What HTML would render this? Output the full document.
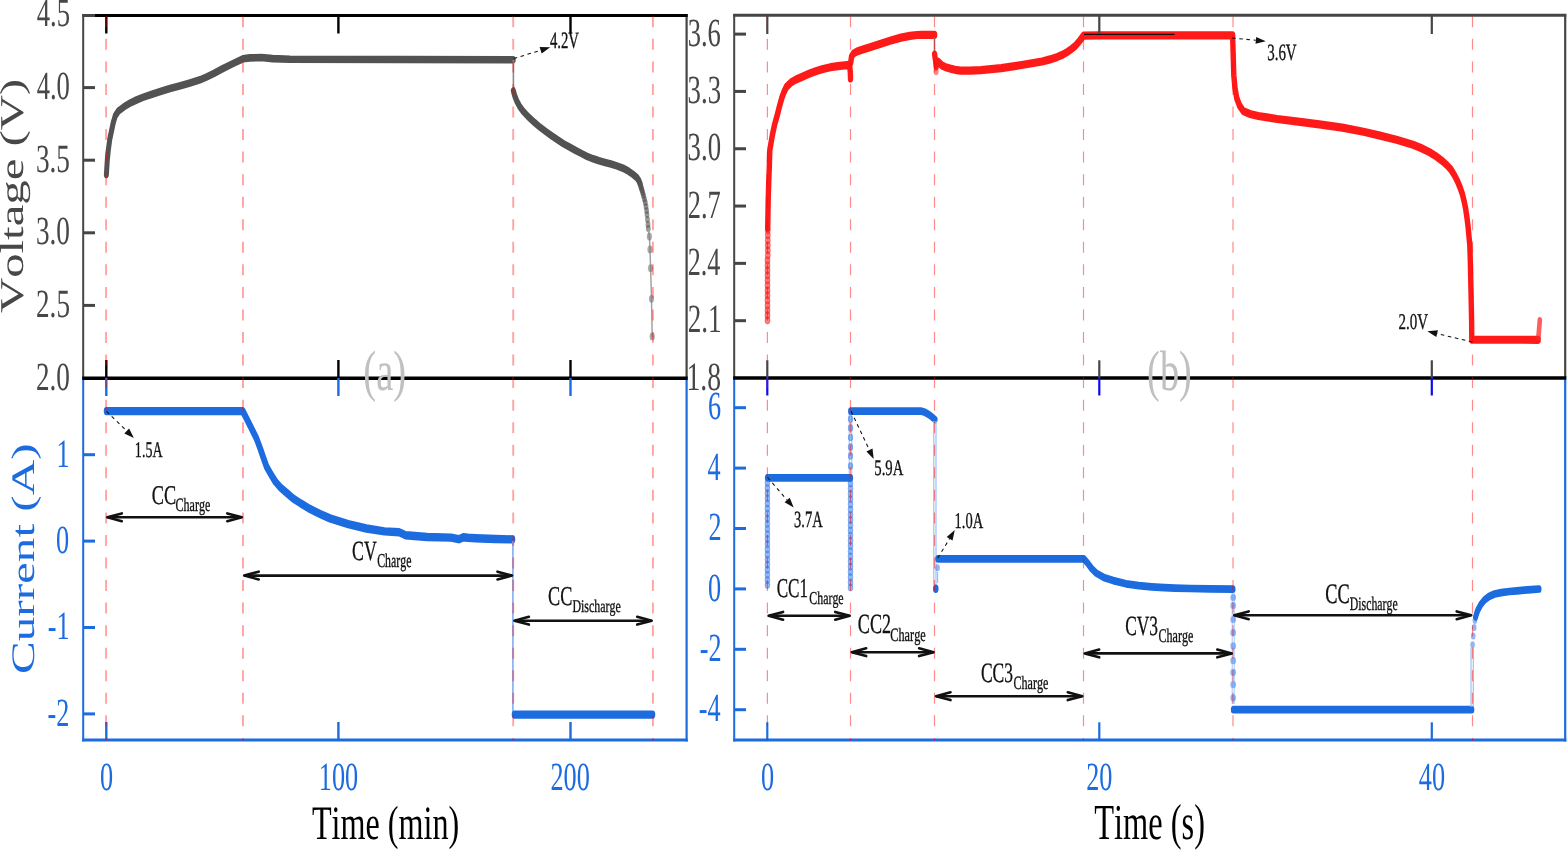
<!DOCTYPE html>
<html><head><meta charset="utf-8"><title>Charge/discharge profiles</title>
<style>
html,body{margin:0;padding:0;background:#fff;}
body{width:1567px;height:850px;overflow:hidden;}
svg{display:block;}
svg text{font-family:'Liberation Serif', 'Times New Roman', serif;font-kerning:none;text-rendering:geometricPrecision;}
</style></head><body>
<svg width="1567" height="850" viewBox="0 0 1567 850">
<rect width="1567" height="850" fill="#fff"/>
<polyline transform="scale(0.66,1)" points="161.21,174.4 162.58,160.0 164.24,149.4 166.36,139.0 168.94,131.0 171.67,122.5 174.70,115.7 179.24,111.2 187.88,106.8 197.88,102.8 206.82,100.0 216.36,97.4 230.30,94.2 244.24,91.3 257.58,88.5 271.97,85.9 287.88,82.9 303.03,79.8 313.33,76.9 324.24,73.4 336.06,69.2 353.18,63.5 368.03,58.8 378.79,57.9 396.06,57.5 413.18,58.6 439.39,59.3 606.06,59.5 777.58,59.7" fill="none" stroke="#525252" stroke-width="7.6" stroke-linejoin="round" stroke-linecap="round" />
<line x1="513.4" y1="60" x2="513.4" y2="90" stroke="#8a8a8a" stroke-width="1.6" />
<polyline transform="scale(0.66,1)" points="777.88,91.0 780.00,96.0 783.03,101.2 787.12,106.2 791.82,110.6 800.00,116.5 809.70,122.4 818.18,127.2 827.58,131.8 836.36,136.0 845.30,140.0 853.79,143.7 863.18,147.1 871.97,150.4 881.06,153.5 889.39,156.3 898.79,158.8 907.58,160.8 916.67,162.4 925.76,164.0 934.55,165.9 943.94,168.2 952.27,171.2 959.09,174.4 964.85,177.6 967.88,180.5 970.00,184.0" fill="none" stroke="#525252" stroke-width="7.6" stroke-linejoin="round" stroke-linecap="round" />
<ellipse cx="641.0" cy="187.0" rx="2.38" ry="3.6" fill="rgba(85,85,85,0.9)" />
<ellipse cx="641.8" cy="189.6" rx="2.38" ry="3.6" fill="rgba(85,85,85,0.85)" />
<ellipse cx="642.7" cy="192.5" rx="2.38" ry="3.6" fill="rgba(85,85,85,0.8)" />
<ellipse cx="643.5" cy="195.5" rx="2.38" ry="3.6" fill="rgba(85,85,85,0.75)" />
<ellipse cx="644.4" cy="199.0" rx="2.38" ry="3.6" fill="rgba(85,85,85,0.7)" />
<ellipse cx="645.3" cy="202.6" rx="2.38" ry="3.6" fill="rgba(85,85,85,0.66)" />
<ellipse cx="646.0" cy="206.5" rx="2.38" ry="3.6" fill="rgba(85,85,85,0.62)" />
<ellipse cx="646.6" cy="210.5" rx="2.38" ry="3.6" fill="rgba(85,85,85,0.6)" />
<ellipse cx="647.0" cy="214.5" rx="2.38" ry="3.6" fill="rgba(85,85,85,0.6)" />
<ellipse cx="647.5" cy="219.5" rx="2.38" ry="3.6" fill="rgba(85,85,85,0.6)" />
<ellipse cx="648.0" cy="224.5" rx="2.38" ry="3.6" fill="rgba(85,85,85,0.6)" />
<ellipse cx="648.3" cy="228.5" rx="2.38" ry="3.6" fill="rgba(85,85,85,0.6)" />
<polyline transform="scale(0.66,1)" points="982.27,228.5 983.94,236.5 984.85,249.4 985.76,268.2 987.12,298.8 988.18,336.5" fill="none" stroke="#a0a0a0" stroke-width="2.2" stroke-linejoin="round" stroke-linecap="round" />
<ellipse cx="649.4" cy="236.5" rx="2.57" ry="3.9" fill="rgba(125,125,125,0.65)" />
<ellipse cx="650.0" cy="249.4" rx="2.57" ry="3.9" fill="rgba(125,125,125,0.65)" />
<ellipse cx="650.6" cy="268.2" rx="2.57" ry="3.9" fill="rgba(125,125,125,0.65)" />
<ellipse cx="651.5" cy="298.8" rx="2.57" ry="3.9" fill="rgba(125,125,125,0.65)" />
<ellipse cx="652.2" cy="336.5" rx="2.57" ry="3.9" fill="rgba(125,125,125,0.65)" />
<polyline transform="scale(0.66,1)" points="161.36,411.1 367.88,411.1 373.18,418.0 379.24,426.0 388.48,438.2 394.39,448.8 399.09,457.7 403.79,466.5 410.45,474.4 417.12,481.5 425.15,487.7 434.55,493.0 443.94,498.3 455.91,503.5 469.24,508.8 477.27,511.5 485.76,514.2 500.00,518.4 527.58,524.2 555.15,528.5 582.58,531.4 604.70,532.3 609.85,533.8 614.39,535.2 646.97,537.0 683.64,537.6 690.91,538.6 695.45,539.2 701.97,537.2 709.09,537.8 720.45,538.3 750.00,539.0 776.52,539.4" fill="none" stroke="#1c6ce0" stroke-width="8.4" stroke-linejoin="round" stroke-linecap="round" />
<line x1="512.9" y1="541" x2="512.9" y2="712" stroke="#8fb6f2" stroke-width="1.8" />
<polyline transform="scale(0.66,1)" points="779.55,714.6 988.64,714.6" fill="none" stroke="#1c6ce0" stroke-width="8.4" stroke-linejoin="round" stroke-linecap="round" />
<ellipse cx="767.5" cy="320.3" rx="2.51" ry="3.8" fill="rgba(255,40,40,0.6)" stroke="rgba(255,0,0,0.45)" stroke-width="0.8"/>
<ellipse cx="767.5" cy="315.3" rx="2.51" ry="3.8" fill="rgba(255,40,40,0.6)" stroke="rgba(255,0,0,0.45)" stroke-width="0.8"/>
<ellipse cx="767.5" cy="310.3" rx="2.51" ry="3.8" fill="rgba(255,40,40,0.6)" stroke="rgba(255,0,0,0.45)" stroke-width="0.8"/>
<ellipse cx="767.5" cy="305.3" rx="2.51" ry="3.8" fill="rgba(255,40,40,0.6)" stroke="rgba(255,0,0,0.45)" stroke-width="0.8"/>
<ellipse cx="767.5" cy="300.3" rx="2.51" ry="3.8" fill="rgba(255,40,40,0.6)" stroke="rgba(255,0,0,0.45)" stroke-width="0.8"/>
<ellipse cx="767.5" cy="295.3" rx="2.51" ry="3.8" fill="rgba(255,40,40,0.6)" stroke="rgba(255,0,0,0.45)" stroke-width="0.8"/>
<ellipse cx="767.5" cy="290.3" rx="2.51" ry="3.8" fill="rgba(255,40,40,0.6)" stroke="rgba(255,0,0,0.45)" stroke-width="0.8"/>
<ellipse cx="767.5" cy="285.3" rx="2.51" ry="3.8" fill="rgba(255,40,40,0.6)" stroke="rgba(255,0,0,0.45)" stroke-width="0.8"/>
<ellipse cx="767.5" cy="280.3" rx="2.51" ry="3.8" fill="rgba(255,40,40,0.6)" stroke="rgba(255,0,0,0.45)" stroke-width="0.8"/>
<ellipse cx="767.5" cy="275.3" rx="2.51" ry="3.8" fill="rgba(255,40,40,0.6)" stroke="rgba(255,0,0,0.45)" stroke-width="0.8"/>
<ellipse cx="767.5" cy="270.3" rx="2.51" ry="3.8" fill="rgba(255,40,40,0.6)" stroke="rgba(255,0,0,0.45)" stroke-width="0.8"/>
<ellipse cx="767.5" cy="265.3" rx="2.51" ry="3.8" fill="rgba(255,40,40,0.6)" stroke="rgba(255,0,0,0.45)" stroke-width="0.8"/>
<ellipse cx="767.5" cy="260.3" rx="2.51" ry="3.8" fill="rgba(255,40,40,0.6)" stroke="rgba(255,0,0,0.45)" stroke-width="0.8"/>
<ellipse cx="767.8" cy="255.3" rx="2.51" ry="3.8" fill="rgba(255,40,40,0.6)" stroke="rgba(255,0,0,0.45)" stroke-width="0.8"/>
<ellipse cx="767.8" cy="250.3" rx="2.51" ry="3.8" fill="rgba(255,40,40,0.6)" stroke="rgba(255,0,0,0.45)" stroke-width="0.8"/>
<ellipse cx="767.8" cy="245.3" rx="2.51" ry="3.8" fill="rgba(255,40,40,0.6)" stroke="rgba(255,0,0,0.45)" stroke-width="0.8"/>
<ellipse cx="767.8" cy="240.3" rx="2.51" ry="3.8" fill="rgba(255,40,40,0.6)" stroke="rgba(255,0,0,0.45)" stroke-width="0.8"/>
<ellipse cx="767.8" cy="235.3" rx="2.51" ry="3.8" fill="rgba(255,40,40,0.6)" stroke="rgba(255,0,0,0.45)" stroke-width="0.8"/>
<ellipse cx="767.8" cy="230.3" rx="2.51" ry="3.8" fill="rgba(255,40,40,0.6)" stroke="rgba(255,0,0,0.45)" stroke-width="0.8"/>
<polyline transform="scale(0.66,1)" points="1163.18,228.0 1163.94,200.0 1164.85,180.0 1165.76,164.7 1166.36,150.0 1170.30,135.0 1173.48,125.0 1177.27,116.2 1180.76,107.0 1184.39,98.3 1187.88,92.0 1191.52,87.0 1198.64,82.3 1206.06,79.5 1215.76,76.7 1225.76,73.8 1237.12,71.0 1246.97,69.0 1258.48,67.2 1269.70,66.1 1279.85,65.4 1287.12,64.9 1288.33,72.0 1288.64,78.5" fill="none" stroke="#ff1a1a" stroke-width="8.2" stroke-linejoin="round" stroke-linecap="round" />
<polyline transform="scale(0.66,1)" points="1289.09,62.0 1290.30,56.5 1293.18,53.5 1298.48,51.5 1306.06,49.8 1318.18,47.3 1333.33,44.0 1348.48,40.8 1365.15,37.6 1378.79,35.9 1389.39,35.0 1396.97,34.9 1416.06,34.9" fill="none" stroke="#ff1a1a" stroke-width="8.2" stroke-linejoin="round" stroke-linecap="round" />
<line x1="934.5" y1="38" x2="934.5" y2="51.5" stroke="#8a8a8a" stroke-width="1.5" />
<polyline transform="scale(0.66,1)" points="1416.06,54.5 1417.58,61.0 1418.48,66.5" fill="none" stroke="#ff1a1a" stroke-width="8.0" stroke-linejoin="round" stroke-linecap="round" />
<ellipse cx="936.1" cy="71.5" rx="2.51" ry="3.8" fill="rgba(255,40,40,0.55)" />
<polyline transform="scale(0.66,1)" points="1421.52,61.7 1427.27,65.5 1432.73,67.2 1439.70,68.6 1446.97,69.8 1455.15,70.6 1469.70,70.6 1486.21,70.1 1517.12,68.1 1548.03,65.0 1578.94,61.5 1590.91,59.4 1602.27,56.9 1610.61,54.5 1617.73,51.7 1624.24,48.6 1630.15,45.3 1636.06,40.6 1641.67,35.6 1666.67,35.3 1867.58,35.3 1868.48,55.0 1869.39,75.3 1871.21,88.0 1873.79,97.9 1878.03,105.5 1883.79,111.1 1893.94,114.0 1906.52,116.0 1935.15,119.0 1969.70,121.8 2001.82,124.6 2033.79,127.6 2065.91,131.8 2090.91,135.6 2115.91,139.8 2140.91,144.7 2153.03,148.0 2165.76,152.1 2175.76,156.3 2185.76,161.2 2192.42,165.2 2198.18,169.4 2203.48,175.0 2208.18,181.0 2212.27,187.5 2215.76,194.1 2218.48,201.5 2220.76,209.0 2222.73,218.0 2224.39,227.1 2226.97,245.2 2227.73,260.0 2228.79,291.2 2229.70,320.0 2230.00,339.6 2330.61,339.8" fill="none" stroke="#ff1a1a" stroke-width="8.2" stroke-linejoin="round" stroke-linecap="round" />
<polyline transform="scale(0.66,1)" points="2330.91,337.0 2332.12,328.0 2333.03,320.5" fill="none" stroke="rgba(255,40,40,0.75)" stroke-width="7.0" stroke-linejoin="round" stroke-linecap="round" />
<line x1="1084" y1="34.3" x2="1174.5" y2="34.3" stroke="#111" stroke-width="1.3" />
<ellipse cx="767.4" cy="585.0" rx="2.38" ry="3.6" fill="rgba(60,125,235,0.55)" stroke="rgba(30,100,225,0.45)" stroke-width="0.8"/>
<ellipse cx="767.4" cy="579.9" rx="2.38" ry="3.6" fill="rgba(60,125,235,0.55)" stroke="rgba(30,100,225,0.45)" stroke-width="0.8"/>
<ellipse cx="767.4" cy="574.8" rx="2.38" ry="3.6" fill="rgba(60,125,235,0.55)" stroke="rgba(30,100,225,0.45)" stroke-width="0.8"/>
<ellipse cx="767.4" cy="569.7" rx="2.38" ry="3.6" fill="rgba(60,125,235,0.55)" stroke="rgba(30,100,225,0.45)" stroke-width="0.8"/>
<ellipse cx="767.4" cy="564.6" rx="2.38" ry="3.6" fill="rgba(60,125,235,0.55)" stroke="rgba(30,100,225,0.45)" stroke-width="0.8"/>
<ellipse cx="767.4" cy="559.5" rx="2.38" ry="3.6" fill="rgba(60,125,235,0.55)" stroke="rgba(30,100,225,0.45)" stroke-width="0.8"/>
<ellipse cx="767.4" cy="554.4" rx="2.38" ry="3.6" fill="rgba(60,125,235,0.55)" stroke="rgba(30,100,225,0.45)" stroke-width="0.8"/>
<ellipse cx="767.4" cy="549.3" rx="2.38" ry="3.6" fill="rgba(60,125,235,0.55)" stroke="rgba(30,100,225,0.45)" stroke-width="0.8"/>
<ellipse cx="767.4" cy="544.2" rx="2.38" ry="3.6" fill="rgba(60,125,235,0.55)" stroke="rgba(30,100,225,0.45)" stroke-width="0.8"/>
<ellipse cx="767.4" cy="539.1" rx="2.38" ry="3.6" fill="rgba(60,125,235,0.55)" stroke="rgba(30,100,225,0.45)" stroke-width="0.8"/>
<ellipse cx="767.4" cy="534.0" rx="2.38" ry="3.6" fill="rgba(60,125,235,0.55)" stroke="rgba(30,100,225,0.45)" stroke-width="0.8"/>
<ellipse cx="767.4" cy="528.9" rx="2.38" ry="3.6" fill="rgba(60,125,235,0.55)" stroke="rgba(30,100,225,0.45)" stroke-width="0.8"/>
<ellipse cx="767.4" cy="523.8" rx="2.38" ry="3.6" fill="rgba(60,125,235,0.55)" stroke="rgba(30,100,225,0.45)" stroke-width="0.8"/>
<ellipse cx="767.4" cy="518.7" rx="2.38" ry="3.6" fill="rgba(60,125,235,0.55)" stroke="rgba(30,100,225,0.45)" stroke-width="0.8"/>
<ellipse cx="767.4" cy="513.6" rx="2.38" ry="3.6" fill="rgba(60,125,235,0.55)" stroke="rgba(30,100,225,0.45)" stroke-width="0.8"/>
<ellipse cx="767.4" cy="508.5" rx="2.38" ry="3.6" fill="rgba(60,125,235,0.55)" stroke="rgba(30,100,225,0.45)" stroke-width="0.8"/>
<ellipse cx="767.4" cy="503.4" rx="2.38" ry="3.6" fill="rgba(60,125,235,0.55)" stroke="rgba(30,100,225,0.45)" stroke-width="0.8"/>
<ellipse cx="767.4" cy="498.3" rx="2.38" ry="3.6" fill="rgba(60,125,235,0.55)" stroke="rgba(30,100,225,0.45)" stroke-width="0.8"/>
<ellipse cx="767.4" cy="493.2" rx="2.38" ry="3.6" fill="rgba(60,125,235,0.55)" stroke="rgba(30,100,225,0.45)" stroke-width="0.8"/>
<ellipse cx="767.4" cy="488.1" rx="2.38" ry="3.6" fill="rgba(60,125,235,0.55)" stroke="rgba(30,100,225,0.45)" stroke-width="0.8"/>
<ellipse cx="767.4" cy="483.0" rx="2.38" ry="3.6" fill="rgba(60,125,235,0.55)" stroke="rgba(30,100,225,0.45)" stroke-width="0.8"/>
<line x1="849.2" y1="414" x2="849.2" y2="476" stroke="#9cc0f5" stroke-width="1.0" />
<line x1="851.8" y1="414" x2="851.8" y2="476" stroke="#9cc0f5" stroke-width="1.0" />
<ellipse cx="850.5" cy="587.5" rx="2.38" ry="3.6" fill="rgba(60,125,235,0.55)" stroke="rgba(30,100,225,0.45)" stroke-width="0.8"/>
<ellipse cx="850.5" cy="582.3" rx="2.38" ry="3.6" fill="rgba(60,125,235,0.55)" stroke="rgba(30,100,225,0.45)" stroke-width="0.8"/>
<ellipse cx="850.5" cy="577.1" rx="2.38" ry="3.6" fill="rgba(60,125,235,0.55)" stroke="rgba(30,100,225,0.45)" stroke-width="0.8"/>
<ellipse cx="850.5" cy="571.9" rx="2.38" ry="3.6" fill="rgba(60,125,235,0.55)" stroke="rgba(30,100,225,0.45)" stroke-width="0.8"/>
<ellipse cx="850.5" cy="566.7" rx="2.38" ry="3.6" fill="rgba(60,125,235,0.55)" stroke="rgba(30,100,225,0.45)" stroke-width="0.8"/>
<ellipse cx="850.5" cy="561.5" rx="2.38" ry="3.6" fill="rgba(60,125,235,0.55)" stroke="rgba(30,100,225,0.45)" stroke-width="0.8"/>
<ellipse cx="850.5" cy="556.3" rx="2.38" ry="3.6" fill="rgba(60,125,235,0.55)" stroke="rgba(30,100,225,0.45)" stroke-width="0.8"/>
<ellipse cx="850.5" cy="551.1" rx="2.38" ry="3.6" fill="rgba(60,125,235,0.55)" stroke="rgba(30,100,225,0.45)" stroke-width="0.8"/>
<ellipse cx="850.5" cy="545.9" rx="2.38" ry="3.6" fill="rgba(60,125,235,0.55)" stroke="rgba(30,100,225,0.45)" stroke-width="0.8"/>
<ellipse cx="850.5" cy="540.7" rx="2.38" ry="3.6" fill="rgba(60,125,235,0.55)" stroke="rgba(30,100,225,0.45)" stroke-width="0.8"/>
<ellipse cx="850.5" cy="535.5" rx="2.38" ry="3.6" fill="rgba(60,125,235,0.55)" stroke="rgba(30,100,225,0.45)" stroke-width="0.8"/>
<ellipse cx="850.5" cy="530.3" rx="2.38" ry="3.6" fill="rgba(60,125,235,0.55)" stroke="rgba(30,100,225,0.45)" stroke-width="0.8"/>
<ellipse cx="850.5" cy="525.1" rx="2.38" ry="3.6" fill="rgba(60,125,235,0.55)" stroke="rgba(30,100,225,0.45)" stroke-width="0.8"/>
<ellipse cx="850.5" cy="519.9" rx="2.38" ry="3.6" fill="rgba(60,125,235,0.55)" stroke="rgba(30,100,225,0.45)" stroke-width="0.8"/>
<ellipse cx="850.5" cy="514.7" rx="2.38" ry="3.6" fill="rgba(60,125,235,0.55)" stroke="rgba(30,100,225,0.45)" stroke-width="0.8"/>
<ellipse cx="850.5" cy="509.5" rx="2.38" ry="3.6" fill="rgba(60,125,235,0.55)" stroke="rgba(30,100,225,0.45)" stroke-width="0.8"/>
<ellipse cx="850.5" cy="504.3" rx="2.38" ry="3.6" fill="rgba(60,125,235,0.55)" stroke="rgba(30,100,225,0.45)" stroke-width="0.8"/>
<ellipse cx="850.5" cy="499.1" rx="2.38" ry="3.6" fill="rgba(60,125,235,0.55)" stroke="rgba(30,100,225,0.45)" stroke-width="0.8"/>
<ellipse cx="850.5" cy="493.9" rx="2.38" ry="3.6" fill="rgba(60,125,235,0.55)" stroke="rgba(30,100,225,0.45)" stroke-width="0.8"/>
<ellipse cx="850.5" cy="488.7" rx="2.38" ry="3.6" fill="rgba(60,125,235,0.55)" stroke="rgba(30,100,225,0.45)" stroke-width="0.8"/>
<ellipse cx="850.5" cy="483.5" rx="2.38" ry="3.6" fill="rgba(60,125,235,0.55)" stroke="rgba(30,100,225,0.45)" stroke-width="0.8"/>
<ellipse cx="850.5" cy="478.3" rx="2.38" ry="3.6" fill="rgba(60,125,235,0.55)" stroke="rgba(30,100,225,0.45)" stroke-width="0.8"/>
<ellipse cx="850.5" cy="419.0" rx="2.24" ry="3.4" fill="rgba(60,125,235,0.55)" stroke="rgba(30,100,225,0.45)" stroke-width="0.8"/>
<ellipse cx="850.5" cy="428.0" rx="2.24" ry="3.4" fill="rgba(60,125,235,0.55)" stroke="rgba(30,100,225,0.45)" stroke-width="0.8"/>
<ellipse cx="850.5" cy="437.5" rx="2.24" ry="3.4" fill="rgba(60,125,235,0.55)" stroke="rgba(30,100,225,0.45)" stroke-width="0.8"/>
<ellipse cx="850.5" cy="447.0" rx="2.24" ry="3.4" fill="rgba(60,125,235,0.55)" stroke="rgba(30,100,225,0.45)" stroke-width="0.8"/>
<ellipse cx="850.5" cy="456.0" rx="2.24" ry="3.4" fill="rgba(60,125,235,0.55)" stroke="rgba(30,100,225,0.45)" stroke-width="0.8"/>
<ellipse cx="850.5" cy="466.0" rx="2.24" ry="3.4" fill="rgba(60,125,235,0.55)" stroke="rgba(30,100,225,0.45)" stroke-width="0.8"/>
<polyline transform="scale(0.66,1)" points="1162.73,477.8 1288.64,477.8" fill="none" stroke="#1c6ce0" stroke-width="7.7" stroke-linejoin="round" stroke-linecap="round" />
<polyline transform="scale(0.66,1)" points="1288.79,411.2 1396.21,411.2 1401.52,412.3 1407.58,414.6 1412.88,417.4 1416.67,419.5" fill="none" stroke="#1c6ce0" stroke-width="7.7" stroke-linejoin="round" stroke-linecap="round" />
<line x1="933.8" y1="421" x2="933.8" y2="585" stroke="#9cc0f5" stroke-width="1.2" />
<line x1="936.0" y1="421" x2="936.0" y2="585" stroke="#9cc0f5" stroke-width="1.2" />
<ellipse cx="935.8" cy="588.8" rx="2.77" ry="4.2" fill="#1c6ce0" />
<ellipse cx="937.6" cy="567.8" rx="2.31" ry="3.5" fill="rgba(60,120,230,0.55)" />
<line x1="937.6" y1="572" x2="937.6" y2="583" stroke="#9cc0f5" stroke-width="1.2" />
<polyline transform="scale(0.66,1)" points="1420.91,558.8 1642.27,558.8 1648.18,563.4 1653.94,568.5 1660.76,573.0 1672.27,577.4 1686.82,580.6 1706.21,583.8 1725.45,585.7 1744.85,586.8 1764.09,587.7 1780.30,588.1 1803.03,588.5 1833.33,588.8 1868.18,589.1" fill="none" stroke="#1c6ce0" stroke-width="7.7" stroke-linejoin="round" stroke-linecap="round" />
<line x1="1232.2" y1="593" x2="1232.2" y2="704" stroke="#a9c7f6" stroke-width="1.0" />
<line x1="1234.2" y1="593" x2="1234.2" y2="704" stroke="#a9c7f6" stroke-width="1.0" />
<ellipse cx="1233.2" cy="597.5" rx="2.9" ry="3.6" fill="rgba(70,130,235,0.55)"/>
<ellipse cx="1233.2" cy="605.5" rx="2.9" ry="3.6" fill="rgba(70,130,235,0.55)"/>
<ellipse cx="1233.2" cy="619.5" rx="2.9" ry="3.6" fill="rgba(70,130,235,0.55)"/>
<ellipse cx="1233.2" cy="632.7" rx="2.9" ry="3.6" fill="rgba(70,130,235,0.55)"/>
<ellipse cx="1233.2" cy="645.9" rx="2.9" ry="3.6" fill="rgba(70,130,235,0.55)"/>
<ellipse cx="1233.2" cy="660.7" rx="2.9" ry="3.6" fill="rgba(70,130,235,0.55)"/>
<ellipse cx="1233.2" cy="672.3" rx="2.9" ry="3.6" fill="rgba(70,130,235,0.55)"/>
<ellipse cx="1233.2" cy="684.6" rx="2.9" ry="3.6" fill="rgba(70,130,235,0.55)"/>
<ellipse cx="1233.2" cy="697.8" rx="2.9" ry="3.6" fill="rgba(70,130,235,0.55)"/>
<polyline transform="scale(0.66,1)" points="1868.79,709.7 2230.00,709.7" fill="none" stroke="#1c6ce0" stroke-width="7.7" stroke-linejoin="round" stroke-linecap="round" />
<line x1="1471.0" y1="707" x2="1471.0" y2="648" stroke="#9cc0f5" stroke-width="1.2" />
<line x1="1473.3" y1="707" x2="1473.3" y2="648" stroke="#9cc0f5" stroke-width="1.2" />
<ellipse cx="1472.6" cy="644.8" rx="2.31" ry="3.5" fill="rgba(60,120,230,0.55)" />
<ellipse cx="1473.2" cy="636.0" rx="2.31" ry="3.5" fill="rgba(60,120,230,0.55)" />
<ellipse cx="1474.2" cy="627.5" rx="2.31" ry="3.5" fill="rgba(60,120,230,0.55)" />
<ellipse cx="1474.9" cy="620.5" rx="2.31" ry="3.5" fill="rgba(60,120,230,0.55)" />
<polyline transform="scale(0.66,1)" points="2235.76,617.0 2237.27,613.5 2239.39,609.7 2243.94,604.2 2249.55,599.8 2256.06,596.5 2264.39,594.0 2274.24,592.6 2286.97,591.5 2298.48,590.8 2309.39,590.2 2319.70,589.6 2331.82,589.0" fill="none" stroke="#1c6ce0" stroke-width="7.7" stroke-linejoin="round" stroke-linecap="round" />
<line x1="83.2" y1="14" x2="83.2" y2="378" stroke="#454545" stroke-width="2" />
<line x1="83.2" y1="378" x2="83.2" y2="741.5" stroke="#1c6ce0" stroke-width="2" />
<line x1="686.6" y1="14" x2="686.6" y2="378" stroke="#454545" stroke-width="2.2" />
<line x1="686.6" y1="378" x2="686.6" y2="741.5" stroke="#1c6ce0" stroke-width="2.2" />
<line x1="82.2" y1="15.5" x2="95" y2="15.5" stroke="#454545" stroke-width="3" />
<line x1="95" y1="15.5" x2="687.7" y2="15.5" stroke="#000" stroke-width="3" />
<line x1="82.2" y1="378.2" x2="687.7" y2="378.2" stroke="#000" stroke-width="3.5" />
<line x1="82.2" y1="740" x2="687.7" y2="740" stroke="#1c6ce0" stroke-width="3" />
<line x1="106.3" y1="15" x2="106.3" y2="33.5" stroke="#000" stroke-width="2.4" />
<line x1="106.3" y1="360" x2="106.3" y2="378" stroke="#000" stroke-width="2.4" />
<line x1="106.3" y1="378" x2="106.3" y2="396" stroke="#1c6ce0" stroke-width="2.4" />
<line x1="106.3" y1="722" x2="106.3" y2="740" stroke="#1c6ce0" stroke-width="2.4" />
<line x1="338.4" y1="15" x2="338.4" y2="33.5" stroke="#000" stroke-width="2.4" />
<line x1="338.4" y1="360" x2="338.4" y2="378" stroke="#000" stroke-width="2.4" />
<line x1="338.4" y1="378" x2="338.4" y2="396" stroke="#1c6ce0" stroke-width="2.4" />
<line x1="338.4" y1="722" x2="338.4" y2="740" stroke="#1c6ce0" stroke-width="2.4" />
<line x1="570.5" y1="15" x2="570.5" y2="33.5" stroke="#000" stroke-width="2.4" />
<line x1="570.5" y1="360" x2="570.5" y2="378" stroke="#000" stroke-width="2.4" />
<line x1="570.5" y1="378" x2="570.5" y2="396" stroke="#1c6ce0" stroke-width="2.4" />
<line x1="570.5" y1="722" x2="570.5" y2="740" stroke="#1c6ce0" stroke-width="2.4" />
<line x1="83" y1="305.4" x2="95" y2="305.4" stroke="#454545" stroke-width="3" />
<line x1="83" y1="232.8" x2="95" y2="232.8" stroke="#454545" stroke-width="3" />
<line x1="83" y1="160.20000000000002" x2="95" y2="160.20000000000002" stroke="#454545" stroke-width="3" />
<line x1="83" y1="87.60000000000002" x2="95" y2="87.60000000000002" stroke="#454545" stroke-width="3" />
<line x1="83" y1="454.70000000000005" x2="95" y2="454.70000000000005" stroke="#1c6ce0" stroke-width="3" />
<line x1="83" y1="541.1" x2="95" y2="541.1" stroke="#1c6ce0" stroke-width="3" />
<line x1="83" y1="627.5" x2="95" y2="627.5" stroke="#1c6ce0" stroke-width="3" />
<line x1="83" y1="713.9000000000001" x2="95" y2="713.9000000000001" stroke="#1c6ce0" stroke-width="3" />
<line x1="734.2" y1="14" x2="734.2" y2="378" stroke="#454545" stroke-width="2" />
<line x1="734.2" y1="378" x2="734.2" y2="741.5" stroke="#1c6ce0" stroke-width="2" />
<line x1="1565.2" y1="14" x2="1565.2" y2="378" stroke="#454545" stroke-width="2.2" />
<line x1="1565.2" y1="378" x2="1565.2" y2="741.5" stroke="#1c6ce0" stroke-width="2.2" />
<line x1="733.2" y1="15.3" x2="1566.3" y2="15.3" stroke="#454545" stroke-width="3" />
<line x1="733.2" y1="377.9" x2="1566.3" y2="377.9" stroke="#000" stroke-width="3.5" />
<line x1="733.2" y1="740" x2="1566.3" y2="740" stroke="#1c6ce0" stroke-width="3" />
<line x1="767.3" y1="15" x2="767.3" y2="34" stroke="#454545" stroke-width="2.2" />
<line x1="767.3" y1="360.3" x2="767.3" y2="378" stroke="#454545" stroke-width="2.2" />
<line x1="767.3" y1="378" x2="767.3" y2="395.5" stroke="#0a0af0" stroke-width="2.2" />
<line x1="767.3" y1="722.3" x2="767.3" y2="740" stroke="#1c6ce0" stroke-width="2.2" />
<line x1="1099.3" y1="15" x2="1099.3" y2="34" stroke="#454545" stroke-width="2.2" />
<line x1="1099.3" y1="360.3" x2="1099.3" y2="378" stroke="#454545" stroke-width="2.2" />
<line x1="1099.3" y1="378" x2="1099.3" y2="395.5" stroke="#0a0af0" stroke-width="2.2" />
<line x1="1099.3" y1="722.3" x2="1099.3" y2="740" stroke="#1c6ce0" stroke-width="2.2" />
<line x1="1431.8" y1="15" x2="1431.8" y2="34" stroke="#454545" stroke-width="2.2" />
<line x1="1431.8" y1="360.3" x2="1431.8" y2="378" stroke="#454545" stroke-width="2.2" />
<line x1="1431.8" y1="378" x2="1431.8" y2="395.5" stroke="#0a0af0" stroke-width="2.2" />
<line x1="1431.8" y1="722.3" x2="1431.8" y2="740" stroke="#1c6ce0" stroke-width="2.2" />
<line x1="734" y1="320.685" x2="746" y2="320.685" stroke="#454545" stroke-width="3" />
<line x1="734" y1="263.37" x2="746" y2="263.37" stroke="#454545" stroke-width="3" />
<line x1="734" y1="206.05499999999998" x2="746" y2="206.05499999999998" stroke="#454545" stroke-width="3" />
<line x1="734" y1="148.73999999999998" x2="746" y2="148.73999999999998" stroke="#454545" stroke-width="3" />
<line x1="734" y1="91.42500000000001" x2="746" y2="91.42500000000001" stroke="#454545" stroke-width="3" />
<line x1="734" y1="34.11000000000007" x2="746" y2="34.11000000000007" stroke="#454545" stroke-width="3" />
<line x1="734" y1="407.7" x2="746" y2="407.7" stroke="#1c6ce0" stroke-width="3" />
<line x1="734" y1="468.09999999999997" x2="746" y2="468.09999999999997" stroke="#1c6ce0" stroke-width="3" />
<line x1="734" y1="528.5" x2="746" y2="528.5" stroke="#1c6ce0" stroke-width="3" />
<line x1="734" y1="588.9" x2="746" y2="588.9" stroke="#1c6ce0" stroke-width="3" />
<line x1="734" y1="649.3" x2="746" y2="649.3" stroke="#1c6ce0" stroke-width="3" />
<line x1="734" y1="709.6999999999999" x2="746" y2="709.6999999999999" stroke="#1c6ce0" stroke-width="3" />
<line x1="106.1" y1="16.3" x2="106.1" y2="741" stroke="rgba(255,0,0,0.36)" stroke-width="1.9" stroke-dasharray="11 11.55"/>
<line x1="243.0" y1="16.3" x2="243.0" y2="741" stroke="rgba(255,0,0,0.36)" stroke-width="1.9" stroke-dasharray="11 11.55"/>
<line x1="513.2" y1="16.3" x2="513.2" y2="741" stroke="rgba(255,0,0,0.36)" stroke-width="1.9" stroke-dasharray="11 11.55"/>
<line x1="652.9" y1="16.3" x2="652.9" y2="741" stroke="rgba(255,0,0,0.36)" stroke-width="1.9" stroke-dasharray="11 11.55"/>
<line x1="767.4" y1="16.3" x2="767.4" y2="741" stroke="rgba(255,0,0,0.46)" stroke-width="1.2" stroke-dasharray="11 11.55"/>
<line x1="850.5" y1="16.3" x2="850.5" y2="741" stroke="rgba(255,0,0,0.46)" stroke-width="1.2" stroke-dasharray="11 11.55"/>
<line x1="934.5" y1="16.3" x2="934.5" y2="741" stroke="rgba(255,0,0,0.46)" stroke-width="1.2" stroke-dasharray="11 11.55"/>
<line x1="1083.5" y1="16.3" x2="1083.5" y2="741" stroke="rgba(255,0,0,0.46)" stroke-width="1.2" stroke-dasharray="11 11.55"/>
<line x1="1233.0" y1="16.3" x2="1233.0" y2="741" stroke="rgba(255,0,0,0.46)" stroke-width="1.2" stroke-dasharray="11 11.55"/>
<line x1="1472.5" y1="16.3" x2="1472.5" y2="741" stroke="rgba(255,0,0,0.46)" stroke-width="1.2" stroke-dasharray="11 11.55"/>
<text transform="translate(36.68,26.48) scale(0.6652,1)" font-size="40.00" fill="#474747" >4.5</text>
<text transform="translate(36.68,99.22) scale(0.6646,1)" font-size="40.00" fill="#474747" >4.0</text>
<text transform="translate(35.90,171.76) scale(0.6814,1)" font-size="40.00" fill="#474747" >3.5</text>
<text transform="translate(35.90,244.42) scale(0.6808,1)" font-size="40.00" fill="#474747" >3.0</text>
<text transform="translate(36.01,316.96) scale(0.6791,1)" font-size="40.00" fill="#474747" >2.5</text>
<text transform="translate(36.01,389.62) scale(0.6785,1)" font-size="40.00" fill="#474747" >2.0</text>
<text transform="translate(56.47,466.50) scale(0.6550,1)" font-size="40.00" fill="#1c6ce0" >1</text>
<text transform="translate(55.90,552.81) scale(0.6550,1)" font-size="40.00" fill="#1c6ce0" >0</text>
<text transform="translate(47.75,639.30) scale(0.6550,1)" font-size="40.00" fill="#1c6ce0" >-1</text>
<text transform="translate(47.62,725.74) scale(0.6550,1)" font-size="40.00" fill="#1c6ce0" >-2</text>
<text transform="translate(686.47,389.62) scale(0.6917,1)" font-size="40.00" fill="#474747" >1.8</text>
<text transform="translate(687.71,332.24) scale(0.6784,1)" font-size="40.00" fill="#474747" >2.1</text>
<text transform="translate(687.75,274.93) scale(0.6531,1)" font-size="40.00" fill="#474747" >2.4</text>
<text transform="translate(687.74,217.61) scale(0.6604,1)" font-size="40.00" fill="#474747" >2.7</text>
<text transform="translate(687.62,160.36) scale(0.6679,1)" font-size="40.00" fill="#474747" >3.0</text>
<text transform="translate(687.62,102.98) scale(0.6685,1)" font-size="40.00" fill="#474747" >3.3</text>
<text transform="translate(687.63,45.67) scale(0.6632,1)" font-size="40.00" fill="#474747" >3.6</text>
<text transform="translate(707.88,419.35) scale(0.6550,1)" font-size="40.00" fill="#1c6ce0" >6</text>
<text transform="translate(707.51,479.86) scale(0.6550,1)" font-size="40.00" fill="#1c6ce0" >4</text>
<text transform="translate(708.55,540.34) scale(0.6550,1)" font-size="40.00" fill="#1c6ce0" >2</text>
<text transform="translate(708.10,600.61) scale(0.6550,1)" font-size="40.00" fill="#1c6ce0" >0</text>
<text transform="translate(699.82,661.14) scale(0.6550,1)" font-size="40.00" fill="#1c6ce0" >-2</text>
<text transform="translate(698.78,721.46) scale(0.6550,1)" font-size="40.00" fill="#1c6ce0" >-4</text>
<text transform="translate(100.05,789.51) scale(0.6550,1)" font-size="40.00" fill="#1c6ce0" >0</text>
<text transform="translate(318.80,789.51) scale(0.6550,1)" font-size="40.00" fill="#1c6ce0" >100</text>
<text transform="translate(550.47,789.51) scale(0.6550,1)" font-size="40.00" fill="#1c6ce0" >200</text>
<text transform="translate(760.95,789.51) scale(0.6550,1)" font-size="40.00" fill="#1c6ce0" >0</text>
<text transform="translate(1086.22,789.51) scale(0.6550,1)" font-size="40.00" fill="#1c6ce0" >20</text>
<text transform="translate(1418.84,789.51) scale(0.6550,1)" font-size="40.00" fill="#1c6ce0" >40</text>
<text transform="translate(311.92,838.70) scale(0.6708,1)" font-size="47.95" fill="#000" >Time (min)</text>
<text transform="translate(1094.31,839.00) scale(0.6432,1)" font-size="50.40" fill="#000" >Time (s)</text>
<text transform="translate(22.80,313.05) scale(0.6823,1) rotate(-90)" font-size="48.79" fill="#474747">Voltage (V)</text>
<text transform="translate(34.10,674.02) scale(0.6668,1) rotate(-90)" font-size="49.15" fill="#1c6ce0">Current (A)</text>
<text transform="translate(363.30,390.00) scale(0.6805,1)" font-size="56.80" fill="#c0c0c0" >(a)</text>
<text transform="translate(1147.12,390.00) scale(0.6744,1)" font-size="56.80" fill="#c0c0c0" >(b)</text>
<text transform="translate(549.91,47.70) scale(0.6296,1)" font-size="23.40" fill="#111" stroke="#111" stroke-width="0.35">4.2V</text>
<text transform="translate(1267.18,60.20) scale(0.6431,1)" font-size="23.25" fill="#111" stroke="#111" stroke-width="0.35">3.6V</text>
<text transform="translate(1398.44,328.70) scale(0.6681,1)" font-size="22.49" fill="#111" stroke="#111" stroke-width="0.35">2.0V</text>
<text transform="translate(134.87,457.00) scale(0.6232,1)" font-size="22.49" fill="#111" stroke="#111" stroke-width="0.35">1.5A</text>
<text transform="translate(794.11,526.50) scale(0.6239,1)" font-size="23.25" fill="#111" stroke="#111" stroke-width="0.35">3.7A</text>
<text transform="translate(874.24,474.80) scale(0.6668,1)" font-size="22.18" fill="#111" stroke="#111" stroke-width="0.35">5.9A</text>
<text transform="translate(954.53,528.00) scale(0.6402,1)" font-size="22.64" fill="#111" stroke="#111" stroke-width="0.35">1.0A</text>
<line x1="513.7" y1="58.6" x2="540.6" y2="50.3" stroke="#111" stroke-width="1.05" stroke-dasharray="3.6 3.6"/>
<polygon points="550.2,47.3 541.7,53.5 539.6,47.0" fill="#111"/>
<line x1="106.5" y1="411.4" x2="126.7" y2="430.9" stroke="#111" stroke-width="1.05" stroke-dasharray="3.6 3.6"/>
<polygon points="133.9,437.9 124.3,433.4 129.1,428.5" fill="#111"/>
<line x1="1232.1" y1="38.0" x2="1255.8" y2="40.3" stroke="#111" stroke-width="1.05" stroke-dasharray="3.6 3.6"/>
<polygon points="1265.8,41.3 1255.5,43.7 1256.2,36.9" fill="#111"/>
<line x1="1472.3" y1="342.0" x2="1437.1" y2="333.6" stroke="#111" stroke-width="1.05" stroke-dasharray="3.6 3.6"/>
<polygon points="1427.4,331.3 1437.9,330.3 1436.3,336.9" fill="#111"/>
<line x1="767.6" y1="477.5" x2="787.1" y2="500.0" stroke="#111" stroke-width="1.05" stroke-dasharray="3.6 3.6"/>
<polygon points="793.7,507.5 784.6,502.2 789.7,497.7" fill="#111"/>
<line x1="851.1" y1="411.2" x2="869.4" y2="450.1" stroke="#111" stroke-width="1.05" stroke-dasharray="3.6 3.6"/>
<polygon points="873.7,459.1 866.4,451.5 872.5,448.6" fill="#111"/>
<line x1="937.8" y1="558.0" x2="949.6" y2="538.6" stroke="#111" stroke-width="1.05" stroke-dasharray="3.6 3.6"/>
<polygon points="954.8,530.1 952.5,540.4 946.7,536.9" fill="#111"/>
<text transform="translate(151.75,503.80) scale(0.6754,1)" font-size="27.03" fill="#111" stroke="#111" stroke-width="0.35">CC</text>
<text transform="translate(175.51,510.80) scale(0.6386,1)" font-size="18.88" fill="#111" stroke="#111" stroke-width="0.35">Charge</text>
<text transform="translate(352.07,559.50) scale(0.6379,1)" font-size="27.79" fill="#111" stroke="#111" stroke-width="0.35">CV</text>
<text transform="translate(377.21,567.00) scale(0.6049,1)" font-size="19.63" fill="#111" stroke="#111" stroke-width="0.35">Charge</text>
<text transform="translate(548.05,605.00) scale(0.6649,1)" font-size="27.34" fill="#111" stroke="#111" stroke-width="0.35">CC</text>
<text transform="translate(572.46,611.90) scale(0.6662,1)" font-size="17.87" fill="#111" stroke="#111" stroke-width="0.35">Discharge</text>
<text transform="translate(776.70,597.00) scale(0.6248,1)" font-size="27.34" fill="#111" stroke="#111" stroke-width="0.35">CC1</text>
<text transform="translate(809.31,604.20) scale(0.6554,1)" font-size="18.12" fill="#111" stroke="#111" stroke-width="0.35">Charge</text>
<text transform="translate(857.86,633.20) scale(0.6502,1)" font-size="27.79" fill="#111" stroke="#111" stroke-width="0.35">CC2</text>
<text transform="translate(890.30,640.60) scale(0.6499,1)" font-size="18.88" fill="#111" stroke="#111" stroke-width="0.35">Charge</text>
<text transform="translate(980.88,681.50) scale(0.6231,1)" font-size="28.09" fill="#111" stroke="#111" stroke-width="0.35">CC3</text>
<text transform="translate(1013.50,688.60) scale(0.6404,1)" font-size="18.88" fill="#111" stroke="#111" stroke-width="0.35">Charge</text>
<text transform="translate(1125.19,634.80) scale(0.6246,1)" font-size="27.79" fill="#111" stroke="#111" stroke-width="0.35">CV3</text>
<text transform="translate(1158.50,641.90) scale(0.6254,1)" font-size="19.33" fill="#111" stroke="#111" stroke-width="0.35">Charge</text>
<text transform="translate(1325.35,602.80) scale(0.6493,1)" font-size="28.24" fill="#111" stroke="#111" stroke-width="0.35">CC</text>
<text transform="translate(1349.76,609.60) scale(0.6196,1)" font-size="19.09" fill="#111" stroke="#111" stroke-width="0.35">Discharge</text>
<line x1="107.6" y1="517.3" x2="241.5" y2="517.3" stroke="#111" stroke-width="2.6" />
<polyline points="121.8,513.4 107.3,517.3 121.8,521.2" fill="none" stroke="#111" stroke-width="2.6" stroke-linejoin="round" stroke-linecap="round"/>
<polyline points="227.3,513.4 241.8,517.3 227.3,521.2" fill="none" stroke="#111" stroke-width="2.6" stroke-linejoin="round" stroke-linecap="round"/>
<line x1="244.5" y1="575.6" x2="511.70000000000005" y2="575.6" stroke="#111" stroke-width="2.6" />
<polyline points="258.7,571.7 244.2,575.6 258.7,579.5" fill="none" stroke="#111" stroke-width="2.6" stroke-linejoin="round" stroke-linecap="round"/>
<polyline points="497.5,571.7 512.0,575.6 497.5,579.5" fill="none" stroke="#111" stroke-width="2.6" stroke-linejoin="round" stroke-linecap="round"/>
<line x1="514.7" y1="620.7" x2="651.4" y2="620.7" stroke="#111" stroke-width="2.6" />
<polyline points="528.9,616.8 514.4,620.7 528.9,624.6" fill="none" stroke="#111" stroke-width="2.6" stroke-linejoin="round" stroke-linecap="round"/>
<polyline points="637.2,616.8 651.7,620.7 637.2,624.6" fill="none" stroke="#111" stroke-width="2.6" stroke-linejoin="round" stroke-linecap="round"/>
<line x1="768.9" y1="615.8" x2="849.4" y2="615.8" stroke="#111" stroke-width="2.6" />
<polyline points="783.1,611.9 768.6,615.8 783.1,619.7" fill="none" stroke="#111" stroke-width="2.6" stroke-linejoin="round" stroke-linecap="round"/>
<polyline points="835.2,611.9 849.7,615.8 835.2,619.7" fill="none" stroke="#111" stroke-width="2.6" stroke-linejoin="round" stroke-linecap="round"/>
<line x1="852.0" y1="652.2" x2="933.3" y2="652.2" stroke="#111" stroke-width="2.6" />
<polyline points="866.2,648.3 851.7,652.2 866.2,656.1" fill="none" stroke="#111" stroke-width="2.6" stroke-linejoin="round" stroke-linecap="round"/>
<polyline points="919.1,648.3 933.6,652.2 919.1,656.1" fill="none" stroke="#111" stroke-width="2.6" stroke-linejoin="round" stroke-linecap="round"/>
<line x1="936.3" y1="696.2" x2="1082.0" y2="696.2" stroke="#111" stroke-width="2.6" />
<polyline points="950.5,692.3 936.0,696.2 950.5,700.1" fill="none" stroke="#111" stroke-width="2.6" stroke-linejoin="round" stroke-linecap="round"/>
<polyline points="1067.8,692.3 1082.3,696.2 1067.8,700.1" fill="none" stroke="#111" stroke-width="2.6" stroke-linejoin="round" stroke-linecap="round"/>
<line x1="1085.0" y1="653.4" x2="1231.5" y2="653.4" stroke="#111" stroke-width="2.6" />
<polyline points="1099.2,649.5 1084.7,653.4 1099.2,657.3" fill="none" stroke="#111" stroke-width="2.6" stroke-linejoin="round" stroke-linecap="round"/>
<polyline points="1217.3,649.5 1231.8,653.4 1217.3,657.3" fill="none" stroke="#111" stroke-width="2.6" stroke-linejoin="round" stroke-linecap="round"/>
<line x1="1234.5" y1="615.3" x2="1470.9" y2="615.3" stroke="#111" stroke-width="2.6" />
<polyline points="1248.7,611.4 1234.2,615.3 1248.7,619.2" fill="none" stroke="#111" stroke-width="2.6" stroke-linejoin="round" stroke-linecap="round"/>
<polyline points="1456.7,611.4 1471.2,615.3 1456.7,619.2" fill="none" stroke="#111" stroke-width="2.6" stroke-linejoin="round" stroke-linecap="round"/>
</svg>
</body></html>
